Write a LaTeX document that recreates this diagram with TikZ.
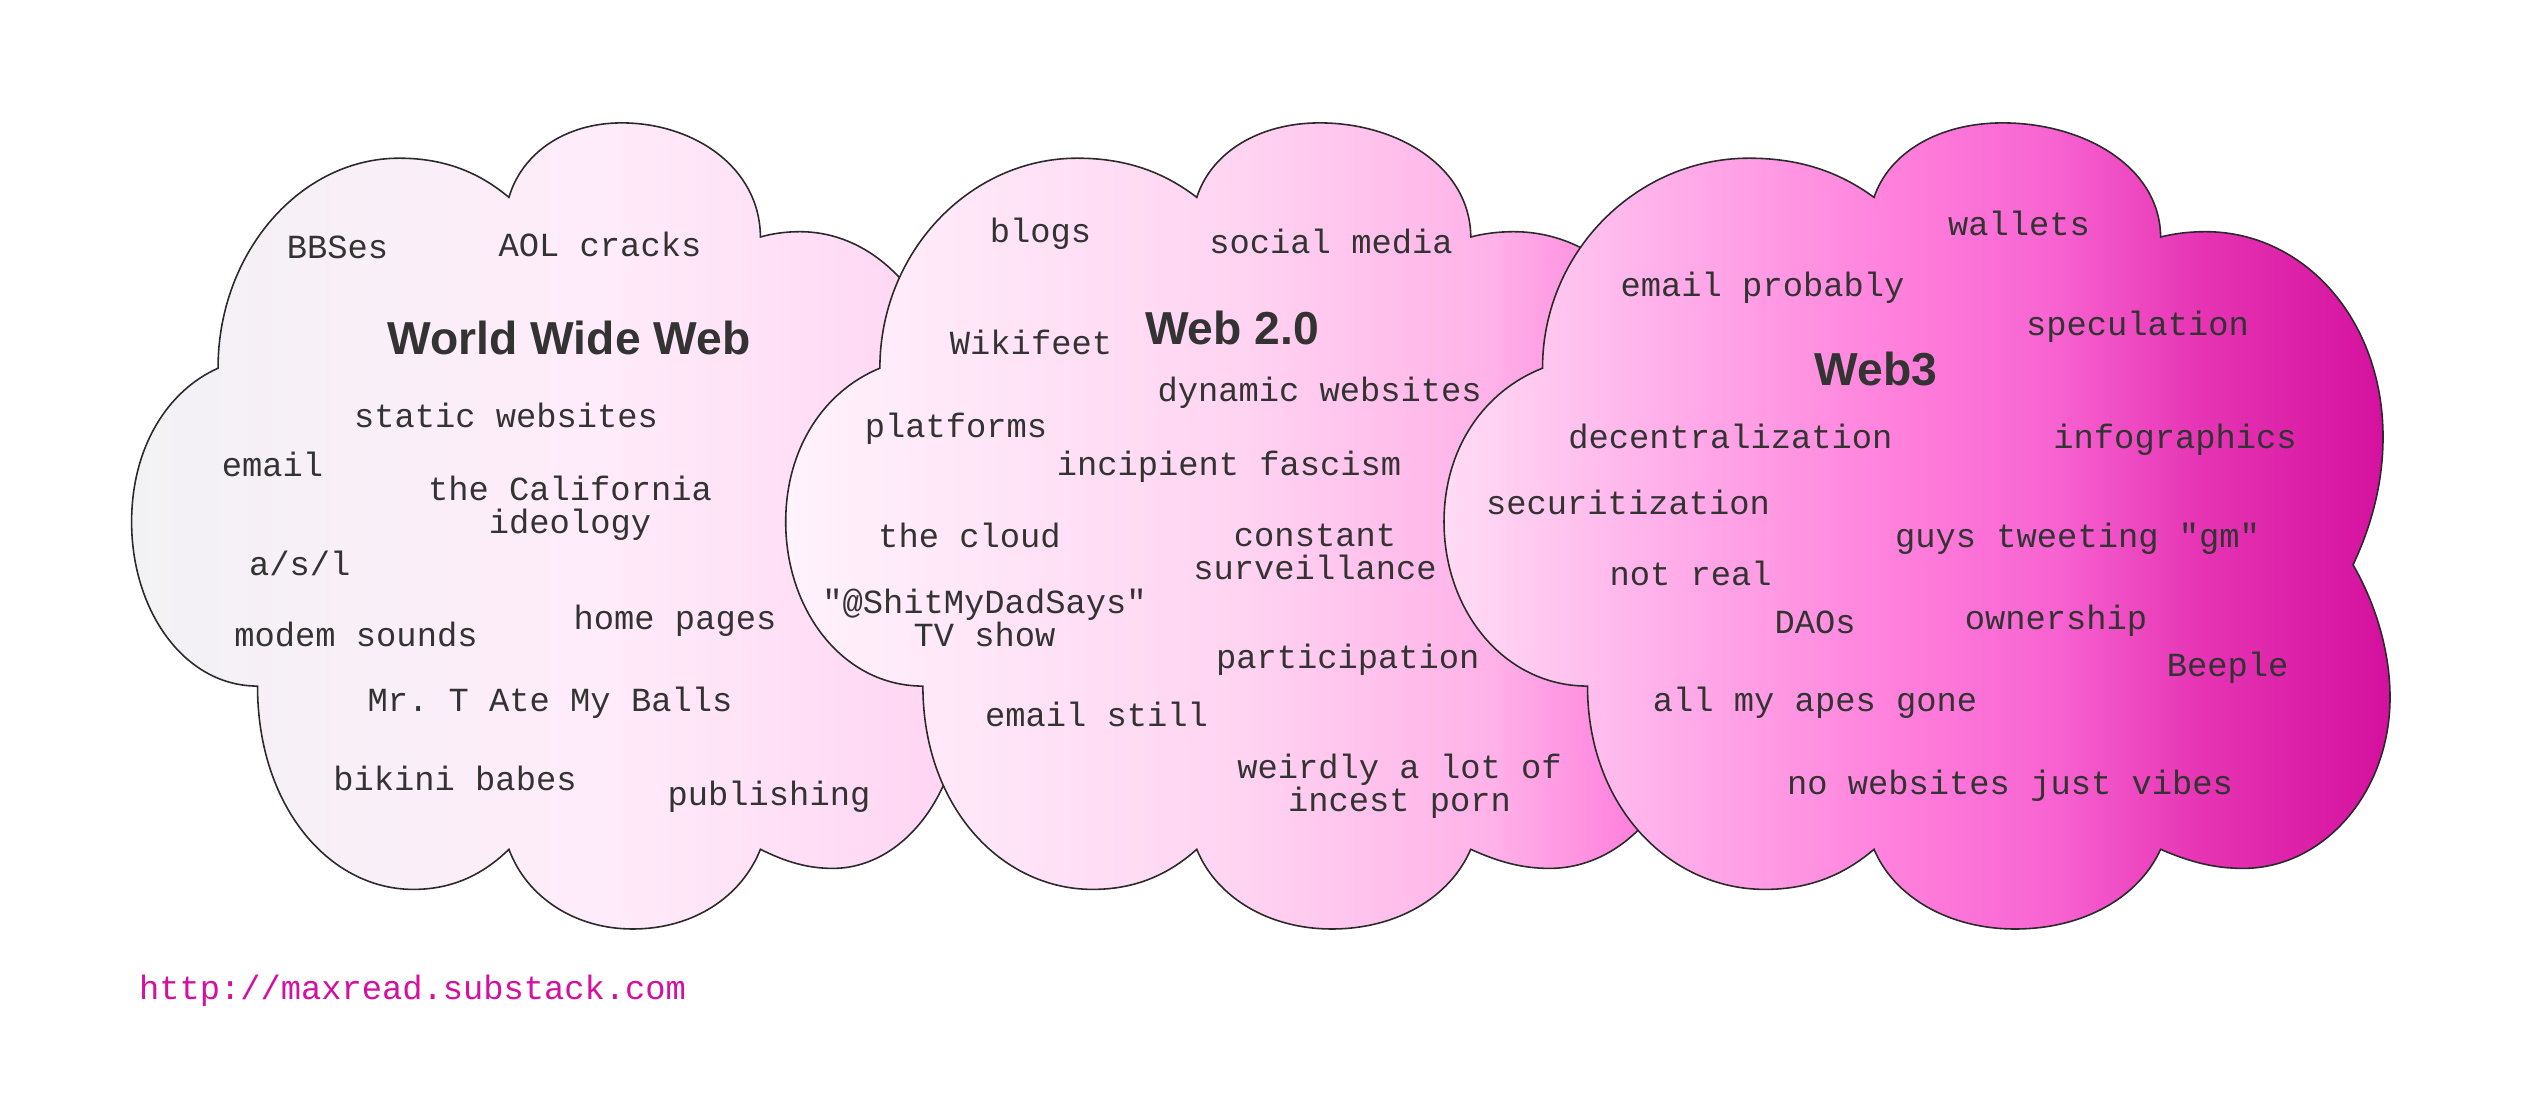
\documentclass[tikz,border=0pt]{standalone}
\usepackage{fontspec}
\newfontfamily\labelfont{Liberation Mono}
\newfontfamily\titlefont{Liberation Sans}[BoldFont={Liberation Sans Bold}]
\frenchspacing
\definecolor{inkgrey}{HTML}{333333}
\definecolor{outlinegrey}{HTML}{2A2A2A}
\definecolor{urlpink}{HTML}{D410A0}
\definecolor{oa}{RGB}{242,242,245}
\definecolor{ob}{RGB}{255,236,250}
\definecolor{oc}{RGB}{255,212,243}
\definecolor{ta}{RGB}{255,243,252}
\definecolor{tb}{RGB}{255,212,242}
\definecolor{tc}{RGB}{255,178,232}
\definecolor{td}{RGB}{255,140,224}
\definecolor{te}{RGB}{255,110,216}
\definecolor{ra}{RGB}{255,220,245}
\definecolor{rb}{RGB}{255,168,232}
\definecolor{rc}{RGB}{255,128,220}
\definecolor{rd}{RGB}{248,100,210}
\definecolor{re}{RGB}{230,52,180}
\definecolor{rf}{RGB}{212,16,158}
\pgfdeclarehorizontalshading{cloudone}{100bp}{
  color(0bp)=(oa); color(25bp)=(oa); color(53bp)=(ob); color(75bp)=(oc); color(100bp)=(oc)}
\pgfdeclarehorizontalshading{cloudtwo}{100bp}{
  color(0bp)=(ta); color(25bp)=(ta); color(50bp)=(tb); color(64bp)=(tc); color(70bp)=(td); color(75bp)=(te); color(100bp)=(te)}
\pgfdeclarehorizontalshading{cloudthree}{100bp}{
  color(0bp)=(ra); color(25bp)=(ra); color(38.5bp)=(rb); color(49bp)=(rc); color(57bp)=(rd); color(65bp)=(re); color(75bp)=(rf); color(100bp)=(rf)}
\tikzset{
  cloudline/.style={draw=outlinegrey,line width=0.45pt,line join=miter},
  lbl/.style={font=\labelfont\fontsize{9.6}{9.5}\selectfont,text=inkgrey,inner sep=0pt,outer sep=0pt,anchor=base,align=center,yshift=-0.3pt},
  ttl/.style={font=\titlefont\bfseries\fontsize{13.15}{14}\selectfont,text=inkgrey,inner sep=0pt,outer sep=0pt,anchor=base,yshift=-0.4pt},
  urltxt/.style={font=\labelfont\fontsize{9.6}{10.1}\selectfont,text=urlpink,inner sep=0pt,outer sep=0pt,anchor=base west}
}
\newcommand{\cloudoutline}{
  (98.5,368.2) .. controls (98.5,252.7) and (192,158.2) .. (305,158.2)
  .. controls (355,158.2) and (395,171.6) .. (430,197.4)
  .. controls (445,152.5) and (495,122.9) .. (558.5,122.9)
  .. controls (640,122.9) and (716,166.8) .. (716.6,237)
  .. controls (730,233.6) and (745,231.7) .. (761.6,231.7)
  .. controls (860,231.7) and (939,319.5) .. (939,437)
  .. controls (939,481.8) and (928,524.7) .. (909,564.8)
  .. controls (930,601.1) and (946,648.9) .. (946,697.5)
  .. controls (946,792) and (880,868.4) .. (799,868.4)
  .. controls (770,868.4) and (745,861.7) .. (716.6,849.3)
  .. controls (695,897) and (640,929) .. (571,929)
  .. controls (505,929) and (450,897) .. (430,849.3)
  .. controls (400,875) and (365,889.4) .. (321,889.4)
  .. controls (225,889.4) and (143.5,806.3) .. (143.5,686.1)
  .. controls (60,686.1) and (0,610.7) .. (0,521.9)
  .. controls (0,448.4) and (40,391.1) .. (98.5,368.2) -- cycle}
\begin{document}
\begin{tikzpicture}[x=0.01cm,y=-0.01cm]
\useasboundingbox (0,0) rectangle (2528,1119);
\fill[white] (0,0) rectangle (2528,1119);
\path[cloudline,shading=cloudone,shift={(131.6,0)},xscale=0.8775] \cloudoutline;
\path[cloudline,shading=cloudtwo,shift={(785.7,0)},xscale=0.956] \cloudoutline;
\path[cloudline,shading=cloudthree,shift={(1444,0)}] \cloudoutline;

% World Wide Web
\node[ttl] (t1) at (569,353) {World Wide Web};
\node[lbl] (a1) at (337.5,257.3) {BBSes};
\node[lbl] (a2) at (600,255.6) {AOL cracks};
\node[lbl] (a3) at (506,426.4) {static websites};
\node[lbl] (a4) at (272.5,475.1) {email};
\node[lbl] (a5) at (570,532.9) {the California\\ideology};
\node[lbl] (a6) at (299.8,574.4) {a/s/l};
\node[lbl] (a7) at (675,628.2) {home pages};
\node[lbl] (a8) at (356,645.8) {modem sounds};
\node[lbl] (a9) at (550,710) {Mr. T Ate My Balls};
\node[lbl] (a10) at (455,789.2) {bikini babes};
\node[lbl] (a11) at (769,804.4) {publishing};

% Web 2.0
\node[ttl] (t2) at (1232,342.7) {Web 2.0};
\node[lbl] (b1) at (1040.6,241.3) {blogs};
\node[lbl] (b2) at (1331,252.7) {social media};
\node[lbl] (b3) at (1031,353.9) {Wikifeet};
\node[lbl] (b4) at (1319.6,400.7) {dynamic websites};
\node[lbl] (b5) at (956,436) {platforms};
\node[lbl] (b6) at (1229,474.2) {incipient fascism};
\node[lbl] (b7) at (969.4,546.7) {the cloud};
\node[lbl] (b8) at (1315,578.9) {constant\\surveillance};
\node[lbl] (b9) at (984.5,645.8) {"@ShitMyDadSays"\\TV show};
\node[lbl] (b10) at (1347.7,667.6) {participation};
\node[lbl] (b11) at (1096.5,725.2) {email still};
\node[lbl] (b12) at (1399.5,810.7) {weirdly a lot of\\incest porn};

% Web3
\node[ttl] (t3) at (1876,383.9) {Web3};
\node[lbl] (c1) at (2019,234.2) {wallets};
\node[lbl] (c2) at (1762.5,295.1) {email probably};
\node[lbl] (c3) at (2137.5,334.8) {speculation};
\node[lbl] (c4) at (1730.4,447.4) {decentralization};
\node[lbl] (c5) at (2175,447.4) {infographics};
\node[lbl] (c6) at (1628,513.7) {securitization};
\node[lbl] (c7) at (2077.5,546.7) {guys tweeting "gm"};
\node[lbl] (c8) at (1690.6,584.9) {not real};
\node[lbl] (c9) at (1815,632) {DAOs};
\node[lbl] (c10) at (2056,628.8) {ownership};
\node[lbl] (c11) at (2227.5,675.9) {Beeple};
\node[lbl] (c12) at (1815,710) {all my apes gone};
\node[lbl] (c13) at (2010,793.7) {no websites just vibes};

\node[urltxt] (u) at (139,999) {http://maxread.substack.com};
\end{tikzpicture}
\end{document}
